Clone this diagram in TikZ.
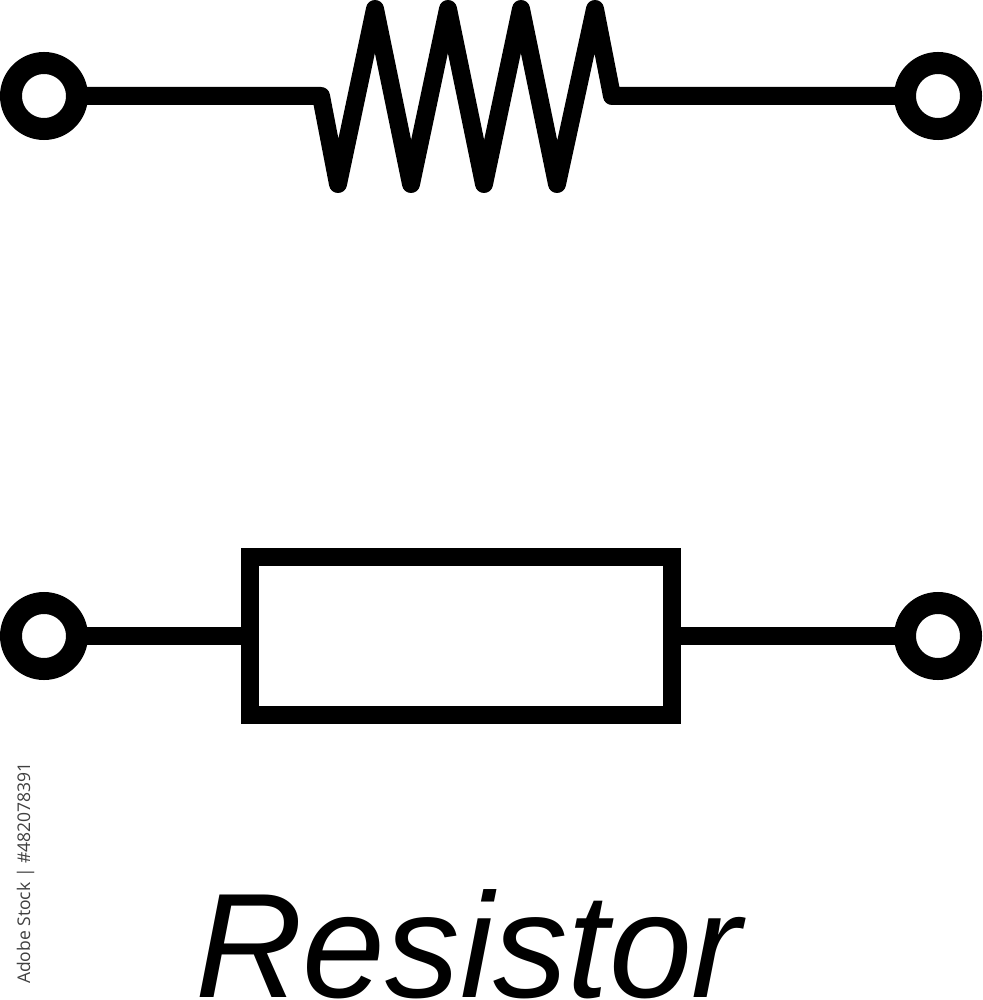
\documentclass[tikz,border=0pt]{standalone}
\usepackage{fontspec}
\setmainfont{Liberation Sans}
\newfontfamily\sidefont{Open Sans}
\tikzset{
  terminal/.style={circle,draw=black,fill=white,line width=22pt,minimum size=66pt,inner sep=0pt,outer sep=0pt},
  wire/.style={draw=black,line width=18pt},
  coil/.style={draw=black,line width=18pt,line join=round,line cap=butt},
  body/.style={rectangle,draw=black,fill=white,line width=18pt,minimum width=422pt,minimum height=158pt,inner sep=0pt,outer sep=0pt},
}
\begin{document}
\begin{tikzpicture}[x=1pt,y=-1pt]
\useasboundingbox (0,0) rectangle (982,1000);
\path[fill=white] (0,0) rectangle (982,1000);
% zigzag resistor
\node[terminal] (t1) at (44,96) {};
\node[terminal] (t2) at (938,96) {};
\coordinate (za) at (321,96);
\coordinate (zb) at (612,96);
\draw[coil] (t1) -- (za) -- (338,184) -- (375,9) -- (411,184) -- (448,9) -- (484,184) -- (521,9) -- (557,184) -- (595,9) -- (zb) -- (t2);
% box resistor
\node[terminal] (t3) at (44,636) {};
\node[terminal] (t4) at (938,636) {};
\node[body] (r) at (461,636) {};
\draw[wire] (t3) -- (r);
\draw[wire] (r) -- (t4);
% labels
\node[anchor=base west,inner sep=0pt,font=\fontsize{149}{149}\itshape\selectfont] (label) at (195,997) {Resistor};
\node[anchor=base west,inner sep=0pt,rotate=90,text=black!75,font=\sidefont\fontsize{17.5}{17.5}\selectfont] (credit) at (30,984) {Adobe Stock | \#482078391};
\end{tikzpicture}
\end{document}
